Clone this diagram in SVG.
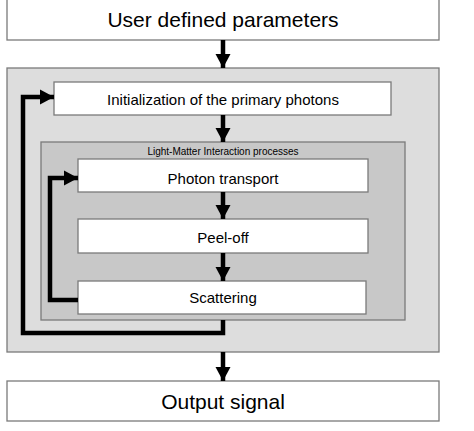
<svg xmlns="http://www.w3.org/2000/svg" width="474" height="431" viewBox="0 0 474 431">
<style>
.box{fill:#ffffff;stroke:#7a7a7a;stroke-width:1.3}
.outer{fill:#dddddd;stroke:#7a7a7a;stroke-width:1.3}
.inner{fill:#c8c8c8;stroke:#7a7a7a;stroke-width:1.3}
text{font-family:"Liberation Sans",Arial,sans-serif;fill:#000;text-anchor:middle}
.big{font-size:21px}
.mid{font-size:15px}
.small{font-size:10px}
.conn{fill:none;stroke:#000;stroke-width:4.5;stroke-linejoin:miter}
</style>
<defs>
<marker id="ah" markerUnits="userSpaceOnUse" markerWidth="15" markerHeight="16" refX="14" refY="8" orient="auto">
<path d="M0,0.5 L14,8 L0,15.5 Z" fill="#000"/>
</marker>
</defs>
<rect x="0" y="0" width="474" height="431" fill="#ffffff"/>
<g id="user-params"><rect class="box" x="7" y="-1" width="432" height="41"/><text class="big" x="223" y="27">User defined parameters</text></g>
<g id="main-process"><rect class="outer" x="7" y="68" width="432" height="284"/></g>
<g id="init"><rect class="box" x="54" y="82" width="337" height="33"/><text class="mid" x="223" y="105">Initialization of the primary photons</text></g>
<g id="lmi"><rect class="inner" x="41" y="142" width="364" height="178"/><text class="small" x="223" y="155">Light-Matter Interaction processes</text></g>
<g id="transport"><rect class="box" x="78" y="159" width="290" height="33"/><text class="mid" x="223" y="184">Photon transport</text></g>
<g id="peeloff"><rect class="box" x="78" y="219" width="290" height="34"/><text class="mid" x="223" y="243">Peel-off</text></g>
<g id="scattering"><rect class="box" x="78" y="281" width="288" height="33"/><text class="mid" x="223" y="303">Scattering</text></g>
<g id="output"><rect class="box" x="7" y="381" width="432" height="40"/><text class="big" x="223" y="409">Output signal</text></g>
<g id="connectors">
<path class="conn" d="M223,40 V68" marker-end="url(#ah)"/>
<path class="conn" d="M223,115 V142" marker-end="url(#ah)"/>
<path class="conn" d="M223,192 V219" marker-end="url(#ah)"/>
<path class="conn" d="M223,253 V281" marker-end="url(#ah)"/>
<path class="conn" d="M223,352 V381" marker-end="url(#ah)"/>
<path class="conn" d="M78,300 H50 V178 H78" marker-end="url(#ah)"/>
<path class="conn" d="M223,320 V333 H23 V97 H54" marker-end="url(#ah)"/>
</g>
</svg>
